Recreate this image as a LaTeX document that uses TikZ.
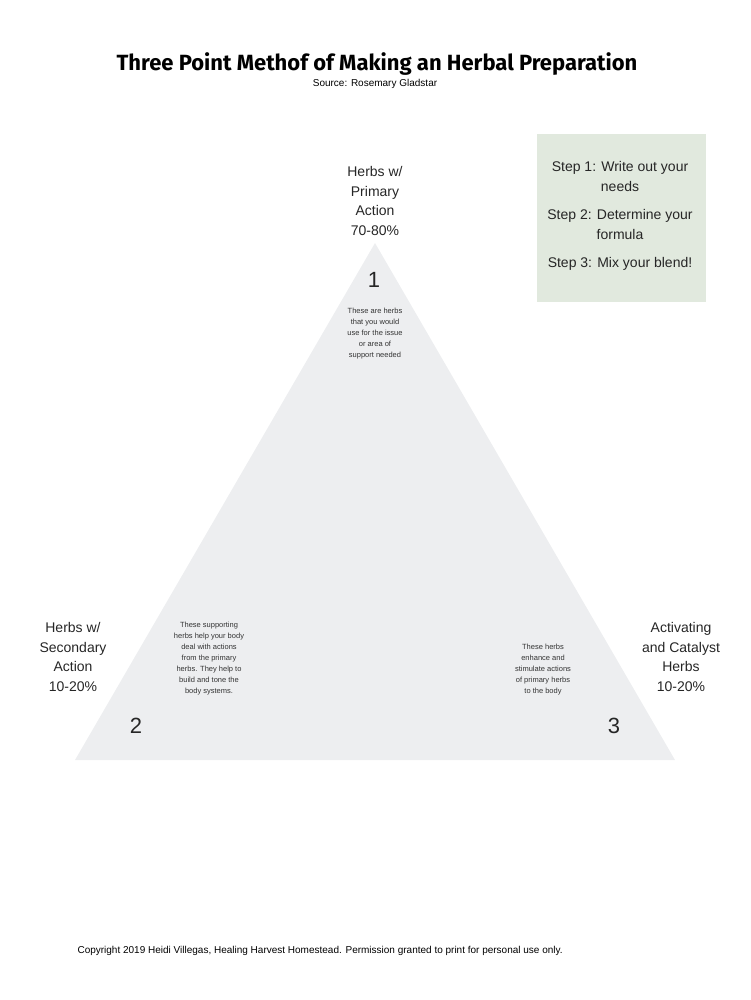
\documentclass[tikz,border=0pt]{standalone}
\usepackage{fontspec}
\setmainfont{Liberation Sans}
\newfontfamily\titlefont{Fira Sans}
\definecolor{trigray}{HTML}{EDEEF0}
\definecolor{stepgreen}{HTML}{E1E9DE}
\begin{document}
\begin{tikzpicture}[x=1pt,y=-1pt,
  label/.style={align=center,font=\fontsize{14}{19.5}\selectfont,text=black!85},
  note/.style={align=center,font=\fontsize{7.5}{11}\selectfont,text=black!80},
  num/.style={font=\fontsize{22}{24}\selectfont,text=black!85}]
\useasboundingbox (0,0) rectangle (750,1000);
% triangle and step box
\fill[trigray] (375,243) -- (75,760) -- (675,760) -- cycle;
\fill[stepgreen] (537,134) rectangle (706,302);
% titles
\node (title) at (377,64) {\titlefont\bfseries\fontsize{22}{24}\selectfont Three Point Methof of Making an Herbal Preparation};
\node[font=\fontsize{10}{12}\selectfont] (source) at (375,84) {Source: Rosemary Gladstar};
% steps
\node[label] (steps) at (620,216) {Step 1: Write out your\\needs\\[9pt]Step 2: Determine your\\formula\\[9pt]Step 3: Mix your blend!};
% corner labels
\node[label] (top) at (375,201) {Herbs w/\\Primary\\Action\\70-80\%};
\node[label] (left) at (73,657) {Herbs w/\\Secondary\\Action\\10-20\%};
\node[label] (right) at (681,657) {Activating\\and Catalyst\\Herbs\\10-20\%};
\node[num] (n1) at (374,280) {1};
\node[num] (n2) at (136,726) {2};
\node[num] (n3) at (614,726) {3};
% notes
\node[note] (note1) at (375,334) {These are herbs\\that you would\\use for the issue\\or area of\\support needed};
\node[note] (note2) at (209,659) {These supporting\\herbs help your body\\deal with actions\\from the primary\\herbs. They help to\\build and tone the\\body systems.};
\node[note] (note3) at (543,670) {These herbs\\enhance and\\stimulate actions\\of primary herbs\\to the body};
% footer
\node[anchor=west,font=\fontsize{10}{12}\selectfont] (copy) at (74,951) {Copyright 2019 Heidi Villegas, Healing Harvest Homestead. Permission granted to print for personal use only.};
\end{tikzpicture}
\end{document}
